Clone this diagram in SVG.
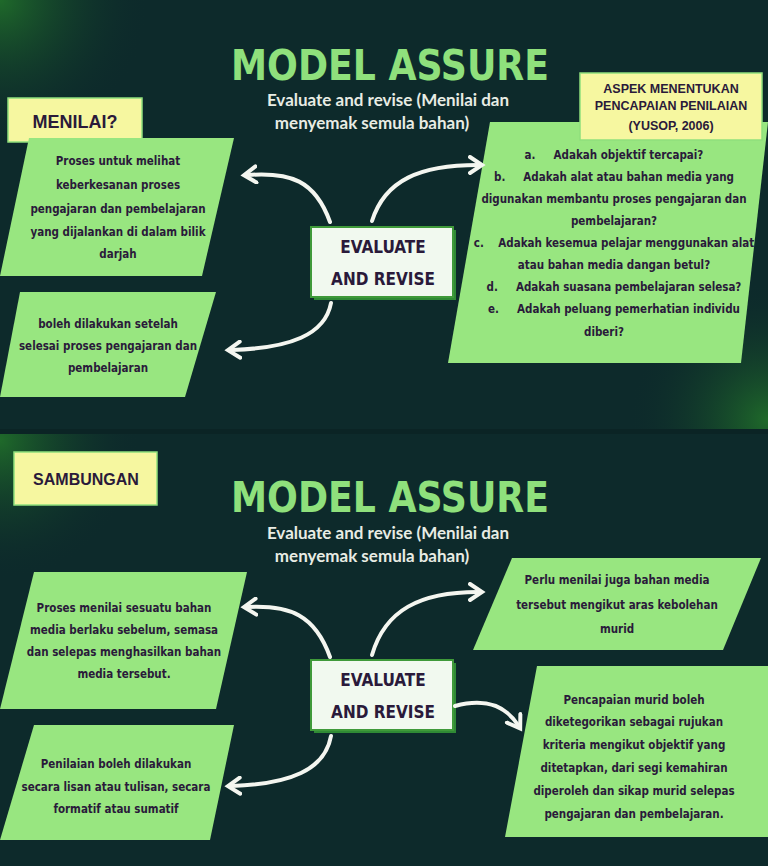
<svg xmlns="http://www.w3.org/2000/svg" width="768" height="866" viewBox="0 0 768 866">
<defs>
<radialGradient id="gA" gradientUnits="userSpaceOnUse" cx="0" cy="0" r="150"><stop offset="0" stop-color="#1f6a2a"/><stop offset="1" stop-color="#0d2a2b" stop-opacity="0"/></radialGradient>
<radialGradient id="gB" gradientUnits="userSpaceOnUse" cx="768" cy="420" r="140"><stop offset="0" stop-color="#1f6a2a"/><stop offset="1" stop-color="#0d2a2b" stop-opacity="0"/></radialGradient>
<radialGradient id="gC" gradientUnits="userSpaceOnUse" cx="0" cy="440" r="140"><stop offset="0" stop-color="#1f6a2a"/><stop offset="1" stop-color="#0d2a2b" stop-opacity="0"/></radialGradient>
<marker id="ah" viewBox="0 0 10 10" refX="5" refY="5" markerWidth="5" markerHeight="5" orient="auto"><path d="M1,1 L7,5 L1,9" fill="none" stroke="#f4f6f0" stroke-width="2" stroke-linecap="round"/></marker>
<style>
.t{font-family:"DejaVu Sans",sans-serif;font-stretch:condensed;font-weight:bold;fill:#8fe07c;font-size:42px;text-anchor:middle}
.s{font-family:Lato,"Open Sans",sans-serif;font-weight:bold;fill:#e8ece4;font-size:17px;text-anchor:middle}
.p{fill:#98e680}
.b{font-family:"DejaVu Sans",sans-serif;font-stretch:condensed;font-weight:bold;fill:#2a1a3a;font-size:11.5px;text-anchor:middle}
.y{fill:#f6f7a0;stroke:#8fe07c;stroke-width:1.5}
.yt{font-family:"Liberation Sans",Arial,sans-serif;font-weight:bold;fill:#2a1a3a;text-anchor:middle}
.c{fill:#f1f9ef;stroke:#3f9a3a;stroke-width:2}
.ct{font-family:"DejaVu Sans",sans-serif;font-stretch:condensed;font-weight:bold;fill:#2a1a3a;font-size:17px;text-anchor:middle}
.a{fill:none;stroke:#f4f6f0;stroke-width:4;stroke-linecap:round;marker-end:url(#ah)}
</style>
</defs>
<rect width="768" height="866" fill="#0d2a2b"/>
<rect width="768" height="430" fill="url(#gA)"/>
<rect width="768" height="430" fill="url(#gB)"/>
<rect y="434" width="768" height="432" fill="url(#gC)"/>
<rect x="0" y="429" width="768" height="5" fill="#0b2425"/>

<g id="top-title"><text class="t" x="390" y="80" textLength="318" lengthAdjust="spacingAndGlyphs">MODEL ASSURE</text>
<text class="s" x="388" y="106">Evaluate and revise (Menilai dan</text>
<text class="s" x="372" y="129">menyemak semula bahan)</text></g>

<g id="menilai"><rect class="y" x="8" y="98" width="134" height="44"/><text class="yt" x="75" y="128" font-size="18">MENILAI?</text></g>

<g id="tl1"><polygon class="p" points="29,138 234,138 202,276 0,276"/>
<text class="b"><tspan x="118" y="165">Proses untuk melihat</tspan><tspan x="118" y="189">keberkesanan proses</tspan><tspan x="118" y="213">pengajaran dan pembelajaran</tspan><tspan x="118" y="236">yang dijalankan di dalam bilik</tspan><tspan x="118" y="258">darjah</tspan></text></g>

<g id="tl2"><polygon class="p" points="20,292 216,292 185,397 0,397"/>
<text class="b"><tspan x="108" y="328">boleh dilakukan setelah</tspan><tspan x="108" y="350">selesai proses pengajaran dan</tspan><tspan x="108" y="372">pembelajaran</tspan></text></g>

<g id="tr"><polygon class="p" points="490,122 768,122 741,363 448,363"/>
<text class="b" font-size="11" xml:space="preserve"><tspan x="614" y="159">a.     Adakah objektif tercapai?</tspan><tspan x="614" y="181">b.     Adakah alat atau bahan media yang</tspan><tspan x="614" y="203">digunakan membantu proses pengajaran dan</tspan><tspan x="614" y="225">pembelajaran?</tspan><tspan x="614" y="247">c.    Adakah kesemua pelajar menggunakan alat</tspan><tspan x="614" y="269">atau bahan media dangan betul?</tspan><tspan x="614" y="291">d.     Adakah suasana pembelajaran selesa?</tspan><tspan x="614" y="313">e.     Adakah peluang pemerhatian individu</tspan><tspan x="604" y="336">diberi?</tspan></text></g>

<g id="aspek"><rect class="y" x="580" y="73" width="182" height="67"/>
<text class="yt" font-size="12.5"><tspan x="671" y="93">ASPEK MENENTUKAN</tspan><tspan x="671" y="110">PENCAPAIAN PENILAIAN</tspan><tspan x="671" y="130">(YUSOP, 2006)</tspan></text></g>

<g id="center1"><rect x="314" y="230" width="142" height="70" fill="#2f8a35"/><rect class="c" x="311" y="227" width="142" height="70"/>
<text class="ct"><tspan x="383" y="253">EVALUATE</tspan><tspan x="383" y="285">AND REVISE</tspan></text></g>

<g id="bottom-title"><text class="t" x="390" y="512" textLength="318" lengthAdjust="spacingAndGlyphs">MODEL ASSURE</text>
<text class="s" x="388" y="539">Evaluate and revise (Menilai dan</text>
<text class="s" x="372" y="562">menyemak semula bahan)</text></g>

<g id="sambungan"><rect class="y" x="14" y="452" width="143" height="53"/><text class="yt" x="86" y="485" font-size="16">SAMBUNGAN</text></g>

<g id="bl1"><polygon class="p" points="34,572 247,572 216,709 0,709"/>
<text class="b"><tspan x="124" y="612">Proses menilai sesuatu bahan</tspan><tspan x="124" y="634">media berlaku sebelum, semasa</tspan><tspan x="124" y="656">dan selepas menghasilkan bahan</tspan><tspan x="124" y="678">media tersebut.</tspan></text></g>

<g id="bl2"><polygon class="p" points="34,725 234,725 210,840 0,840"/>
<text class="b"><tspan x="116" y="768">Penilaian boleh dilakukan</tspan><tspan x="116" y="791">secara lisan atau tulisan, secara</tspan><tspan x="116" y="813">formatif atau sumatif</tspan></text></g>

<g id="br1"><polygon class="p" points="512,558 761,558 723,650 473,650"/>
<text class="b"><tspan x="617" y="584">Perlu menilai juga bahan media</tspan><tspan x="617" y="609">tersebut mengikut aras kebolehan</tspan><tspan x="617" y="633">murid</tspan></text></g>

<g id="br2"><polygon class="p" points="537,666 768,666 768,837 505,837"/>
<text class="b"><tspan x="634" y="704">Pencapaian murid boleh</tspan><tspan x="634" y="726">diketegorikan sebagai rujukan</tspan><tspan x="634" y="749">kriteria mengikut objektif yang</tspan><tspan x="634" y="772">ditetapkan, dari segi kemahiran</tspan><tspan x="634" y="795">diperoleh dan sikap murid selepas</tspan><tspan x="634" y="818">pengajaran dan pembelajaran.</tspan></text></g>

<g id="center2"><rect x="314" y="663" width="142" height="70" fill="#2f8a35"/><rect class="c" x="311" y="660" width="142" height="70"/>
<text class="ct"><tspan x="383" y="686">EVALUATE</tspan><tspan x="383" y="718">AND REVISE</tspan></text></g>

<g id="connectors">
<path class="a" d="M330,222 C315,180 290,172 248,175"/>
<path class="a" d="M372,221 C385,180 420,165 478,165"/>
<path class="a" d="M331,303 C325,335 290,348 232,350"/>
<path class="a" d="M330,657 C315,615 290,605 248,607"/>
<path class="a" d="M372,655 C385,610 420,592 478,592"/>
<path class="a" d="M331,736 C325,770 290,784 232,786"/>
<path class="a" d="M455,706 C485,698 505,705 518,725"/>
</g>
</svg>
